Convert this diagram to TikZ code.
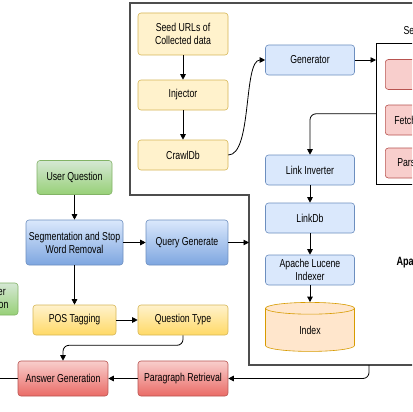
\documentclass[tikz,border=0pt]{standalone}
\usepackage{fontspec}
\setmainfont{Liberation Sans}[FakeStretch=0.76]
\usepackage{xcolor}
\definecolor{seedfill}{HTML}{FFF2CC}
\definecolor{seedline}{HTML}{D6B656}
\definecolor{bluefill}{HTML}{DAE8FC}
\definecolor{blueline}{HTML}{6C8EBF}
\definecolor{bluedeep}{HTML}{7EA6E0}
\definecolor{pinkfill}{HTML}{F8CECC}
\definecolor{pinkline}{HTML}{B85450}
\definecolor{reddeep}{HTML}{EA6B66}
\definecolor{greenfill}{HTML}{D5E8D4}
\definecolor{greendeep}{HTML}{97D077}
\definecolor{greenline}{HTML}{82B366}
\definecolor{yellowdeep}{HTML}{FFD966}
\definecolor{idxfill}{HTML}{FFE6CC}
\definecolor{idxline}{HTML}{D79B00}
\definecolor{frameline}{HTML}{4D4D4D}
\usetikzlibrary{shapes.geometric,arrows.meta}

\begin{document}
\begin{tikzpicture}[x=1pt, y=-1pt,
    basebox/.style={rectangle, rounded corners=3pt, line width=0.6pt, minimum width=90pt, minimum height=30pt, align=center, inner sep=1pt, font=\fontsize{11.5}{13}\selectfont},
    crawlbox/.style={basebox, draw=seedline, fill=seedfill},
    nutchbox/.style={basebox, draw=blueline, fill=bluefill, minimum width=89pt},
    fetchbox/.style={basebox, draw=pinkline, fill=pinkfill, anchor=west, text width=100pt, align=left, inner xsep=9pt},
    greenbox/.style={basebox, draw=greenline, top color=greenfill, bottom color=greendeep, minimum width=75pt, minimum height=34pt},
    querybox/.style={basebox, draw=blueline, top color=bluefill, bottom color=bluedeep, minimum height=45pt},
    tagbox/.style={basebox, draw=seedline, top color=seedfill, bottom color=yellowdeep},
    answerbox/.style={basebox, draw=pinkline, top color=pinkfill, bottom color=reddeep, minimum height=35pt},
    conn/.style={-{Triangle[length=5.5pt,width=5.5pt]}, line width=0.8pt},
  ]
    \useasboundingbox (0,0) rectangle (412,412);
    \fill[white] (0,0) rectangle (412,412);
    \clip (0,0) rectangle (412,412);

    % outer frame of the crawler
    \coordinate (fnw) at (130,3);
    \coordinate (fne) at (430,3);
    \coordinate (fse) at (430,365);
    \coordinate (fsw) at (249,365);
    \coordinate (fin) at (249,195);
    \coordinate (finw) at (130,195);
    \coordinate (fout) at (369,365);
    \draw[frameline, line width=1.1pt] (fnw) -- (fne) -- (fse) -- (fsw) -- (fin) -- (finw) -- cycle;

    % segment group
    \node[draw, line width=0.6pt, minimum width=110pt, minimum height=141pt, anchor=north west, inner sep=0pt] (segbox) at (376,43) {};
    \node[anchor=west, font=\fontsize{11.5}{13}\selectfont] (segtitle) at (400,32) {Segment};
    \node[fetchbox] (gen2) at (385,74.5) {};
    \node[fetchbox] (fetch) at (385,120) {Fetcher};
    \node[fetchbox, inner xsep=12pt, text width=94pt] (parse) at (385,163) {Parser};

    \node[crawlbox, minimum height=42pt] (seed) at (183,34) {Seed URLs of\\Collected data};
    \node[crawlbox] (inject) at (183,95) {Injector};
    \node[crawlbox] (crawldb) at (183,155) {CrawlDb};

    \node[nutchbox] (generator) at (310,60) {Generator};
    \node[nutchbox] (linkinv) at (310,170) {Link Inverter};
    \node[nutchbox] (linkdb) at (310,218) {LinkDb};
    \node[nutchbox] (lucene) at (310,270) {Apache Lucene\\Indexer};
    \node[cylinder, shape border rotate=90, aspect=0.55, draw=idxline, fill=idxfill, line width=0.6pt, minimum width=89pt, minimum height=49pt, inner sep=0pt, font=\fontsize{11.5}{13}\selectfont] (index) at (310,330) {Index};

    \node[anchor=west, font=\bfseries\fontsize{12}{14}\selectfont] (nutch) at (393,262) {Apache Nutch};

    % question side
    \node[greenbox] (question) at (74.5,177.5) {User Question};
    \node[querybox, minimum width=97pt] (segment) at (74.5,242.5) {Segmentation and Stop\\Word Removal};
    \node[querybox, minimum width=82pt] (query) at (187,242.5) {Query Generate};
    \node[greenbox, minimum height=32pt] (final) at (-19.5,299) {Final Answer\\User Question};
    \node[tagbox, minimum width=83pt] (pos) at (74.5,320) {POS Tagging};
    \node[tagbox] (qtype) at (183,320) {Question Type};
    \node[answerbox] (ansgen) at (63,378.5) {Answer Generation};
    \node[answerbox] (pararet) at (183,378.5) {Paragraph Retrieval};

    \draw[conn] (seed) -- (inject);
    \draw[conn] (inject) -- (crawldb);
    \draw[conn] (crawldb.east) .. controls +(24,0) and +(-22,0) .. (generator.west);
    \draw[conn] (generator.east) -- (generator.east -| segbox.west);
    \draw[conn, rounded corners=6pt] (segbox.west) -| (linkinv.north);
    \draw[conn] (linkinv) -- (linkdb);
    \draw[conn] (linkdb) -- (lucene);
    \draw[conn] (lucene) -- (index.top);

    \draw[conn] (question) -- (segment);
    \draw[conn] (segment) -- (query);
    \draw[conn] (query.east) -- (query.east -| fsw);
    \draw[conn] (segment) -- (pos);
    \draw[conn] (pos) -- (qtype);
    \draw[conn, rounded corners=6pt] (qtype.south) -- ++(0,10) -| (ansgen.north);
    \draw[conn, rounded corners=6pt] (fout) |- (pararet.east);
    \draw[conn] (pararet) -- (ansgen);
    \draw[conn] (ansgen.west) -| (final.south);
  \end{tikzpicture}
\end{document}
